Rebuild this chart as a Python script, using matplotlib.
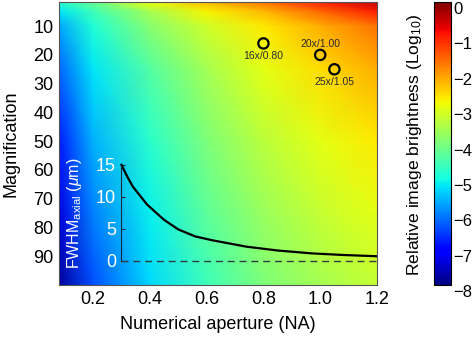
import numpy as np
import matplotlib
matplotlib.use("Agg")
import matplotlib.pyplot as plt

plt.rcParams['font.family'] = ['Liberation Sans', 'DejaVu Sans']
plt.rcParams['mathtext.fontset'] = 'custom'
plt.rcParams['mathtext.rm'] = 'Liberation Sans'
plt.rcParams['mathtext.it'] = 'Liberation Sans:italic'

# relative image brightness (log10) on a coarse grid
grid_na = [0.08, 0.2, 0.4, 0.6, 0.8, 1.0, 1.2]
grid_mag = [1.6, 5, 10, 25, 50, 75, 100]
bright_mag2 = [-4.8, -4.2, -2.9, -2.3, -1.7, -1.0, -0.5]
bright_mag5 = [-5.2, -4.6, -3.6, -2.8, -2.3, -1.6, -1.0]
bright_mag10 = [-5.7, -4.9, -3.9, -3.2, -2.7, -2.2, -1.7]
bright_mag25 = [-6.2, -5.2, -4.4, -3.6, -3.0, -2.6, -2.2]
bright_mag50 = [-6.8, -5.6, -4.8, -4.0, -3.4, -3.0, -2.7]
bright_mag75 = [-7.3, -6.0, -5.1, -4.3, -3.7, -3.3, -3.0]
bright_mag100 = [-7.8, -6.4, -5.3, -4.6, -4.0, -3.6, -3.3]

# axial FWHM
fwhm_na = [0.30, 0.32, 0.34, 0.39, 0.45, 0.50, 0.56, 0.62, 0.74, 0.85, 0.97, 1.08, 1.20]
fwhm_um = [15.0, 13.2, 11.6, 8.8, 6.4, 4.9, 3.8, 3.2, 2.2, 1.6, 1.15, 0.9, 0.7]

# objectives marked on the map
obj_na = [0.80, 1.00, 1.05]
obj_mag = [16, 20, 25]
obj_labels = ['16x/0.80', '20x/1.00', '25x/1.05']

bright = np.array([bright_mag2, bright_mag5, bright_mag10, bright_mag25,
                   bright_mag50, bright_mag75, bright_mag100])
NA, MAG = np.meshgrid(grid_na, grid_mag)

fs = 13
fig = plt.figure(figsize=(4.74, 3.41), dpi=100)
ax = fig.add_axes([59/474, 56/341, 318/474, 283/341])
im = ax.pcolormesh(NA, MAG, bright, cmap='jet', vmin=-8, vmax=0, shading='gouraud')
ax.set_xlim(0.08, 1.2)
ax.set_ylim(100, 1.6)
ax.set_xticks([0.2, 0.4, 0.6, 0.8, 1.0, 1.2])
ax.set_xticklabels(['0.2', '0.4', '0.6', '0.8', '1.0', '1.2'])
ax.set_yticks(range(10, 100, 10))
ax.tick_params(length=0, labelsize=fs, pad=4)
ax.set_xlabel('Numerical aperture (NA)', fontsize=fs, labelpad=6)
ax.set_ylabel('Magnification', fontsize=fs, labelpad=10)
for s in ax.spines.values():
    s.set_color('#555555')

ax.scatter(obj_na, obj_mag, s=55, facecolors='none', edgecolors='black', linewidths=1.6, zorder=5)
offsets = [(0, -9), (0, 8), (0, -9)]
for x, y, lab, off in zip(obj_na, obj_mag, obj_labels, offsets):
    ax.annotate(lab, (x, y), xytext=off, textcoords='offset points',
                ha='center', va='center', fontsize=7.5, color='#2a2a2a')

# FWHM inset sharing the NA axis
ax2 = fig.add_axes(ax.get_position())
ax2.patch.set_visible(False)
ax2.set_xlim(0.08, 1.2)
ax2.set_ylim(-3.8, 40.5)
ax2.plot(fwhm_na, fwhm_um, color='black', lw=1.6)
ax2.plot([0.3, 1.2], [0, 0], color='#2f3a44', lw=1, ls=(0, (5, 3.5)))
for s in ['top', 'right', 'bottom']:
    ax2.spines[s].set_visible(False)
ax2.spines['left'].set_position(('data', 0.3))
ax2.spines['left'].set_bounds(0, 15)
ax2.spines['left'].set_color('#1a2a40')
ax2.set_xticks([])
ax2.set_yticks([0, 5, 10, 15])
ax2.tick_params(axis='y', direction='in', length=3, color='#1a2a40',
                labelcolor='white', labelsize=fs, pad=4)
ax2.text(0.136, 7.5, r'FWHM$_{\mathrm{axial}}$ ($\mu$m)', rotation=90, color='white',
         fontsize=11.5, ha='center', va='center')

cax = fig.add_axes([434/474, 56/341, 17/474, 283/341])
cb = fig.colorbar(im, cax=cax)
cb.set_ticks(range(-8, 1))
cb.set_ticklabels(['\u22128', '\u22127', '\u22126', '\u22125', '\u22124',
                   '\u22123', '\u22122', '\u22121', '0'])
cb.ax.tick_params(length=0, labelsize=12, pad=1.5)
for t in cb.ax.get_yticklabels():
    t.set_va('top')
fig.text(415/474, 1 - 145/341, r'Relative image brightness (Log$_{10}$)',
         rotation=90, ha='center', va='center', fontsize=12.6)

fig.savefig('out.png', dpi=100)
